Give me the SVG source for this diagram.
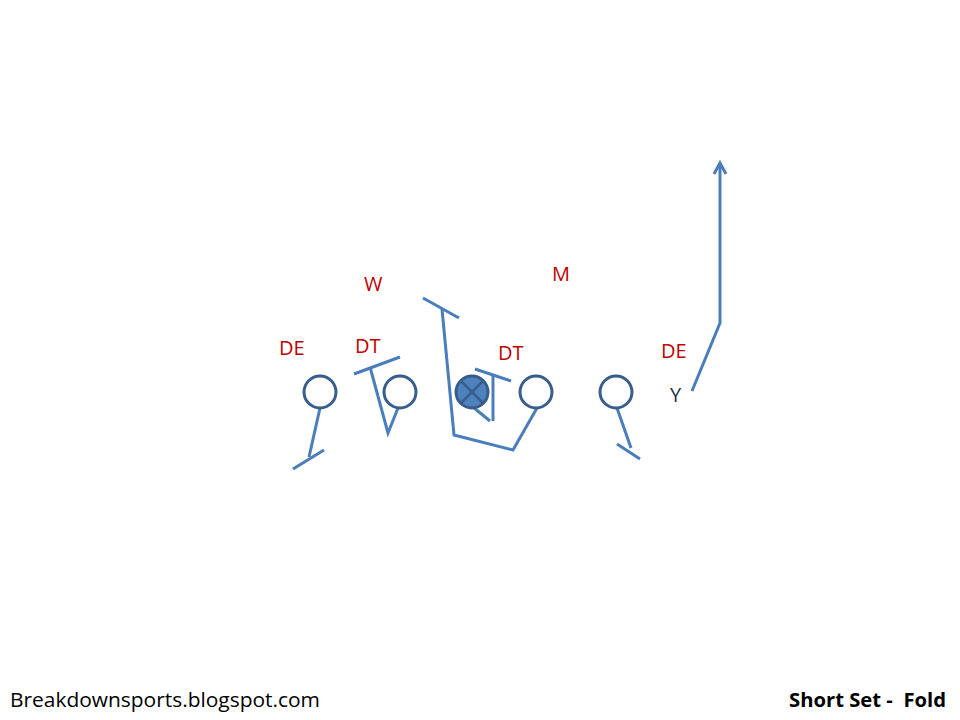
<svg xmlns="http://www.w3.org/2000/svg" width="960" height="720" viewBox="0 0 960 720">
<style>
.r{stroke:#4A7EBB;stroke-width:3;fill:none;stroke-linejoin:miter}
.p{fill:#fff;stroke:#385D8A;stroke-width:3}
.c{fill:#4F81BD;stroke:#385D8A;stroke-width:3}
.d{font-family:"Open Sans","Liberation Sans",sans-serif;font-size:20px;fill:#C00000}
.y{font-family:"Open Sans","Liberation Sans",sans-serif;font-size:20px;fill:#1F2D45}
.f{font-family:"Open Sans","Liberation Sans",sans-serif;font-size:20px;fill:#000}
</style>
<rect width="960" height="720" fill="#fff"/>
<g id="connectors">
<polyline class="r" points="320,408 309,457"/>
<line class="r" x1="293" y1="469" x2="324" y2="450"/>
<polyline class="r" points="398,408 388,433 370,367"/>
<line class="r" x1="354" y1="374" x2="400" y2="357"/>
<polyline class="r" points="442,309 454,435 513,450 537,408"/>
<line class="r" x1="423" y1="298" x2="459" y2="318"/>
<polyline class="r" points="473,407 490,421"/>
<line class="r" x1="493" y1="421" x2="493" y2="375"/>
<line class="r" x1="475" y1="369" x2="511" y2="381"/>
<polyline class="r" points="617,408 631,448"/>
<line class="r" x1="617" y1="444" x2="640" y2="459"/>
<polyline class="r" points="692,391 720,323 720,164"/>
<polyline class="r" points="714,174 720,163 726,174"/>
</g>
<g id="de-left"><circle class="p" cx="320" cy="392" r="16"/></g>
<g id="dt-left"><circle class="p" cx="400" cy="392" r="16"/></g>
<g id="center"><circle class="c" cx="472" cy="392" r="16"/>
<line x1="461" y1="381" x2="483" y2="403" stroke="#385D8A" stroke-width="2.5"/>
<line x1="483" y1="381" x2="461" y2="403" stroke="#385D8A" stroke-width="2.5"/></g>
<g id="guard-right"><circle class="p" cx="536" cy="392" r="16"/></g>
<g id="tackle-right"><circle class="p" cx="616" cy="392" r="16"/></g>
<g id="labels">
<text class="d" x="364" y="291">W</text>
<text class="d" x="552" y="281">M</text>
<text class="d" x="279" y="355">DE</text>
<text class="d" x="355" y="353">DT</text>
<text class="d" x="498" y="360">DT</text>
<text class="d" x="661" y="358">DE</text>
<text class="y" x="670" y="402">Y</text>
</g>
<text class="f" x="10" y="707" textLength="310" lengthAdjust="spacingAndGlyphs">Breakdownsports.blogspot.com</text>
<text class="f" x="789" y="707" font-weight="bold" textLength="157" lengthAdjust="spacingAndGlyphs" xml:space="preserve">Short Set -  Fold</text>
</svg>
